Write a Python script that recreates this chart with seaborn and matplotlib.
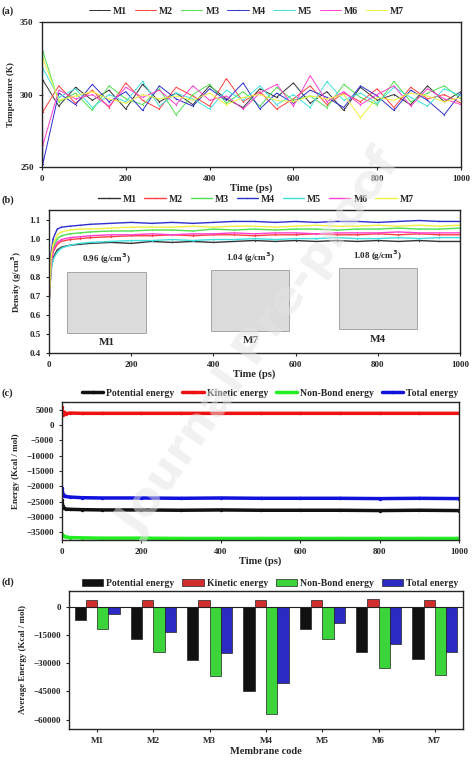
import numpy as np
import pandas as pd
import matplotlib
matplotlib.use('Agg')
import matplotlib.pyplot as plt
import seaborn as sns

sns.set_style('ticks')
plt.rcParams['font.family'] = ['Liberation Serif', 'DejaVu Serif']
plt.rcParams['font.weight'] = 'bold'

membranes = ['M1', 'M2', 'M3', 'M4', 'M5', 'M6', 'M7']
mem_colors = ['#333333', '#ff4040', '#50e050', '#3030d0', '#40e0e0', '#ff40d0', '#f0f040']

# (a) temperature readings, every 40 ps
t_temp = [0, 2, 40, 80, 120, 160, 200, 240, 280, 320, 360, 400, 440, 480, 520, 560, 600,
          640, 680, 720, 760, 800, 840, 880, 920, 960, 1000]
temp = {
    'M1': [300, 310, 292, 305, 296, 303, 290, 307, 295, 301, 293, 306, 297, 291, 304, 298, 308, 294, 302, 289, 305, 296, 300, 293, 306, 295, 302],
    'M2': [300, 288, 306, 294, 303, 291, 308, 296, 290, 305, 299, 292, 311, 295, 302, 290, 297, 306, 293, 301, 295, 304, 291, 305, 297, 300, 294],
    'M3': [300, 330, 295, 301, 289, 306, 297, 293, 304, 286, 300, 307, 294, 302, 292, 305, 296, 299, 291, 307, 298, 293, 309, 295, 301, 306, 297],
    'M4': [300, 252, 301, 293, 307, 295, 302, 289, 306, 297, 292, 304, 296, 308, 290, 301, 294, 303, 298, 291, 306, 299, 289, 303, 296, 286, 301],
    'M5': [300, 318, 298, 304, 291, 300, 295, 309, 292, 301, 297, 290, 303, 296, 306, 293, 300, 291, 309, 296, 301, 294, 305, 298, 292, 304, 299],
    'M6': [300, 265, 303, 297, 300, 292, 305, 298, 303, 293, 306, 296, 299, 290, 301, 307, 292, 313, 295, 302, 293, 300, 306, 292, 304, 297, 293],
    'M7': [300, 325, 296, 299, 302, 297, 294, 300, 297, 299, 296, 301, 293, 298, 300, 296, 295, 299, 297, 300, 284, 298, 296, 301, 299, 295, 298],
}

# (b) density readings
t_dens = [0, 5, 10, 20, 30, 50, 75, 100, 150, 200, 250, 300, 350, 400, 450, 500, 550, 600,
          650, 700, 750, 800, 850, 900, 950, 1000]
dens = {
    'M1': [0.65, 0.84, 0.90, 0.94, 0.955, 0.965, 0.97, 0.975, 0.98, 0.975, 0.985, 0.98, 0.985, 0.98, 0.985, 0.99, 0.985, 0.99, 0.985, 0.99, 0.985, 0.99, 0.985, 0.99, 0.985, 0.985],
    'M2': [0.65, 0.86, 0.93, 0.97, 0.985, 0.995, 1.00, 1.005, 1.01, 1.015, 1.015, 1.02, 1.015, 1.02, 1.02, 1.015, 1.02, 1.02, 1.025, 1.02, 1.02, 1.025, 1.02, 1.025, 1.02, 1.02],
    'M3': [0.65, 0.88, 0.95, 1.00, 1.015, 1.025, 1.03, 1.035, 1.04, 1.04, 1.045, 1.045, 1.04, 1.05, 1.045, 1.05, 1.045, 1.05, 1.05, 1.045, 1.05, 1.05, 1.055, 1.05, 1.05, 1.055],
    'M4': [0.65, 0.92, 1.00, 1.05, 1.06, 1.065, 1.07, 1.075, 1.08, 1.085, 1.08, 1.085, 1.08, 1.085, 1.09, 1.09, 1.085, 1.09, 1.085, 1.09, 1.09, 1.085, 1.09, 1.095, 1.09, 1.09],
    'M5': [0.65, 0.83, 0.89, 0.93, 0.95, 0.965, 0.975, 0.98, 0.985, 0.99, 0.99, 0.995, 0.99, 0.995, 0.995, 1.00, 0.995, 1.00, 1.00, 1.005, 1.00, 1.00, 1.005, 1.00, 1.005, 1.005],
    'M6': [0.65, 0.86, 0.94, 0.98, 0.995, 1.005, 1.01, 1.015, 1.02, 1.02, 1.025, 1.02, 1.025, 1.025, 1.03, 1.025, 1.03, 1.03, 1.025, 1.03, 1.03, 1.03, 1.035, 1.03, 1.03, 1.03],
    'M7': [0.65, 0.90, 0.97, 1.02, 1.035, 1.045, 1.05, 1.05, 1.055, 1.06, 1.06, 1.06, 1.065, 1.06, 1.065, 1.065, 1.06, 1.065, 1.07, 1.065, 1.065, 1.07, 1.065, 1.07, 1.065, 1.07],
}
inset_labels = ['M1', 'M7', 'M4']
inset_dens = ['0.96 (g/cm$^3$)', '1.04 (g/cm$^3$)', '1.08 (g/cm$^3$)']

# (c) energy readings
energies = ['Potential energy', 'Kinetic energy', 'Non-Bond energy', 'Total energy']
en_colors = ['#111111', '#ee1111', '#22ee22', '#1111dd']
t_en = [0, 2, 5, 10, 20, 50, 100, 200, 300, 400, 500, 600, 700, 800, 900, 1000]
energy = {
    'Potential energy': [-24500, -26500, -27200, -27400, -27500, -27600, -27700, -27700, -27800, -27700, -27800, -27800, -27800, -27900, -27800, -27900],
    'Kinetic energy': [5800, 3200, 4200, 3700, 3900, 3800, 3800, 3800, 3800, 3800, 3800, 3800, 3800, 3800, 3800, 3800],
    'Non-Bond energy': [-35500, -36000, -36300, -36500, -36700, -36800, -36900, -36900, -37000, -37000, -37000, -37000, -37000, -37000, -37000, -37000],
    'Total energy': [-20500, -22500, -23000, -23300, -23500, -23700, -23800, -23800, -23900, -23800, -23900, -23900, -23900, -24000, -23900, -24000],
}

# (d) average energies per membrane
avg_potential = [-7000, -17000, -28000, -44500, -12000, -24000, -27500]
avg_kinetic = [3800, 3800, 3800, 3800, 3800, 4500, 3800]
avg_nonbond = [-11500, -24000, -37000, -57000, -17000, -32500, -36500]
avg_total = [-3500, -13500, -24500, -40500, -8500, -19500, -24000]

fig = plt.figure(figsize=(4.74, 7.63), dpi=100)
W, H = 474, 763
def box(x0, y0, x1, y1):
    return [x0 / W, 1 - y1 / H, (x1 - x0) / W, (y1 - y0) / H]

fs = 6.5
axa = fig.add_axes(box(42, 22, 461, 167))
axb = fig.add_axes(box(49, 210, 460, 353))
axc = fig.add_axes(box(62, 402, 459, 540))
axd = fig.add_axes(box(69, 591, 463, 729))

def legend_top(ax, handles_labels, cols, ypix, xcen=0.5):
    h, l = handles_labels
    ax.legend(h, l, loc='center', bbox_to_anchor=(xcen, 1 - ypix / H), bbox_transform=fig.transFigure,
              ncol=cols, frameon=False, handlelength=2.2, columnspacing=0.8, handletextpad=0.3,
              prop={'weight': 'bold', 'size': fs + 0.5})

def tag(txt, xpix, ypix):
    fig.text(xpix / W, 1 - ypix / H, txt, fontsize=fs + 1, fontweight='bold', va='center')

# (a)
dfa = pd.DataFrame([(m, t, v) for m in membranes for t, v in zip(t_temp, temp[m])],
                   columns=['mem', 't', 'T'])
sns.lineplot(data=dfa, x='t', y='T', hue='mem', palette=mem_colors, ax=axa, lw=0.7,
             marker='.', markersize=2, markeredgewidth=0)
axa.set_xlim(0, 1000); axa.set_ylim(250, 350)
axa.set_yticks([250, 300, 350])
axa.set_ylabel('Temperature (K)', fontsize=fs, fontweight='bold')
axa.set_xlabel('Time (ps)', fontsize=fs + 1, fontweight='bold', labelpad=0)
legend_top(axa, axa.get_legend_handles_labels(), 7, 11, 0.52)
tag('(a)', 2, 11)

# (b)
dfb = pd.DataFrame([(m, t, v) for m in membranes for t, v in zip(t_dens, dens[m])],
                   columns=['mem', 't', 'd'])
sns.lineplot(data=dfb, x='t', y='d', hue='mem', palette=mem_colors, ax=axb, lw=1.0,
             marker='.', markersize=2, markeredgewidth=0)
axb.set_xlim(0, 1000); axb.set_ylim(0.4, 1.15)
axb.set_yticks(np.arange(0.4, 1.11, 0.1))
axb.set_ylabel('Density (g/cm$^3$)', fontsize=fs, fontweight='bold')
axb.set_xlabel('Time (ps)', fontsize=fs + 1, fontweight='bold', labelpad=0)
legend_top(axb, axb.get_legend_handles_labels(), 7, 199, 0.54)
tag('(b)', 2, 200)
for xc, yc, lab, dl in zip([140, 490, 800], [0.665, 0.675, 0.685], inset_labels, inset_dens):
    axb.add_patch(plt.Rectangle((xc - 95, yc - 0.16), 190, 0.32, facecolor='#dcdcdc',
                                edgecolor='#999999', lw=0.6, zorder=3))
    axb.text(xc, yc + 0.21, dl, ha='center', fontsize=fs, fontweight='bold')
    axb.text(xc, yc - 0.225, lab, ha='center', fontsize=fs + 1.5, fontweight='bold')

# (c)
dfc = pd.DataFrame([(e, t, v) for e in energies for t, v in zip(t_en, energy[e])],
                   columns=['e', 't', 'E'])
sns.lineplot(data=dfc, x='t', y='E', hue='e', palette=en_colors, ax=axc, lw=2.5,
             marker='o', markersize=2.5, markeredgewidth=0)
axc.set_xlim(0, 1000); axc.set_ylim(-37500, 7500)
axc.set_yticks(np.arange(-35000, 5001, 5000))
axc.set_ylabel('Energy (Kcal / mol)', fontsize=fs, fontweight='bold')
axc.set_xlabel('Time (ps)', fontsize=fs + 1, fontweight='bold', labelpad=0)
legend_top(axc, axc.get_legend_handles_labels(), 4, 393, 0.57)
tag('(c)', 2, 393)

# (d)
dfd = pd.DataFrame({'mem': membranes * 4,
                    'kind': np.repeat(energies, len(membranes)),
                    'E': avg_potential + avg_kinetic + avg_nonbond + avg_total})
sns.barplot(data=dfd, x='mem', y='E', hue='kind', palette=en_colors, ax=axd,
            edgecolor='#222222', linewidth=0.5, width=0.8, gap=0.0)
axd.axhline(0, color='#222222', lw=0.8)
axd.set_ylim(-65000, 8500)
axd.set_yticks([0, -15000, -30000, -45000, -60000])
axd.set_ylabel('Average Energy (Kcal / mol)', fontsize=fs, fontweight='bold')
axd.set_xlabel('Membrane code', fontsize=fs + 1, fontweight='bold', labelpad=1)
legend_top(axd, axd.get_legend_handles_labels(), 4, 583, 0.57)
tag('(d)', 2, 582)

for ax in (axa, axb, axc, axd):
    ax.tick_params(labelsize=fs, length=2.5, width=0.8)
    for lab in ax.get_xticklabels() + ax.get_yticklabels():
        lab.set_fontweight('bold')
    for s in ax.spines.values():
        s.set_linewidth(1.0)

fig.text(0.55, 0.55, 'Journal Pre-proof', rotation=55, fontsize=34, color='#e4e4e4',
         ha='center', va='center', family='DejaVu Sans', alpha=0.5, zorder=10)

fig.savefig('out.png', dpi=100)
